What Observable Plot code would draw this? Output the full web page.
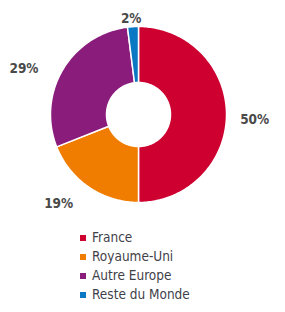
<!DOCTYPE html>
<html>
<head>
<meta charset="utf-8">
<script src="https://cdn.jsdelivr.net/npm/d3@7"></script>
<script src="https://cdn.jsdelivr.net/npm/@observablehq/plot@0.6"></script>
<style>
  body { margin: 0; background: #fff; }
  #chart svg { display: block; }
  #legend { margin-left: 80px; font-family: "DejaVu Sans Condensed", "DejaVu Sans", sans-serif; font-size: 13.5px; color: #3f3f4a; }
  .item { height: 19px; line-height: 19px; display: flex; align-items: center; }
  .sw { width: 6px; height: 6px; margin-right: 6px; }
</style>
</head>
<body>
<div id="chart"></div>
<div id="legend"></div>
<script>
const categories = ["France", "Royaume-Uni", "Autre Europe", "Reste du Monde"];
const values = [50, 19, 29, 2];
const labels = ["50%", "19%", "29%", "2%"];
const colors = ["#cd0030", "#f07d00", "#8a1c7c", "#0a78c2"];

const innerR = 32 / 88;
const arcs = d3.pie().sort(null).value(d => d)(values);

const poly = [];
arcs.forEach((a, i) => {
  const n = Math.max(4, Math.ceil((a.endAngle - a.startAngle) / (Math.PI / 180)));
  for (let k = 0; k <= n; k++) {
    const t = a.startAngle + (a.endAngle - a.startAngle) * k / n;
    poly.push({cat: categories[i], x: Math.sin(t), y: Math.cos(t)});
  }
  for (let k = n; k >= 0; k--) {
    const t = a.startAngle + (a.endAngle - a.startAngle) * k / n;
    poly.push({cat: categories[i], x: innerR * Math.sin(t), y: innerR * Math.cos(t)});
  }
});

const lab = arcs.map((a, i) => {
  const m = (a.startAngle + a.endAngle) / 2;
  return {text: labels[i], left: Math.sin(m) < -0.3, x: 1.32 * Math.sin(m), y: 1.15 * Math.cos(m) - 0.06};
});

const labelStyle = {x: "x", y: "y", text: "text", fill: "#4a4a4a", fontWeight: "bold", fontSize: 13.5, fontFamily: "'DejaVu Sans Condensed', 'DejaVu Sans', sans-serif"};

const plot = Plot.plot({
  width: 285,
  height: 228,
  marginLeft: 50,
  marginRight: 59,
  marginTop: 26,
  marginBottom: 26,
  x: {domain: [-1, 1], axis: null},
  y: {domain: [-1, 1], axis: null},
  color: {domain: categories, range: colors},
  marks: [
    Plot.line(poly, {x: "x", y: "y", z: "cat", fill: "cat", stroke: "white", strokeWidth: 1.5, curve: "linear-closed"}),
    Plot.text(lab.filter(d => d.left), {...labelStyle, textAnchor: "end"}),
    Plot.text(lab.filter(d => !d.left), {...labelStyle, textAnchor: "middle"})
  ]
});
document.getElementById("chart").append(plot);

const legend = document.getElementById("legend");
categories.forEach((c, i) => {
  const row = document.createElement("div");
  row.className = "item";
  const sw = document.createElement("span");
  sw.className = "sw";
  sw.style.background = colors[i];
  const tx = document.createElement("span");
  tx.textContent = c;
  row.append(sw, tx);
  legend.append(row);
});
</script>
</body>
</html>
